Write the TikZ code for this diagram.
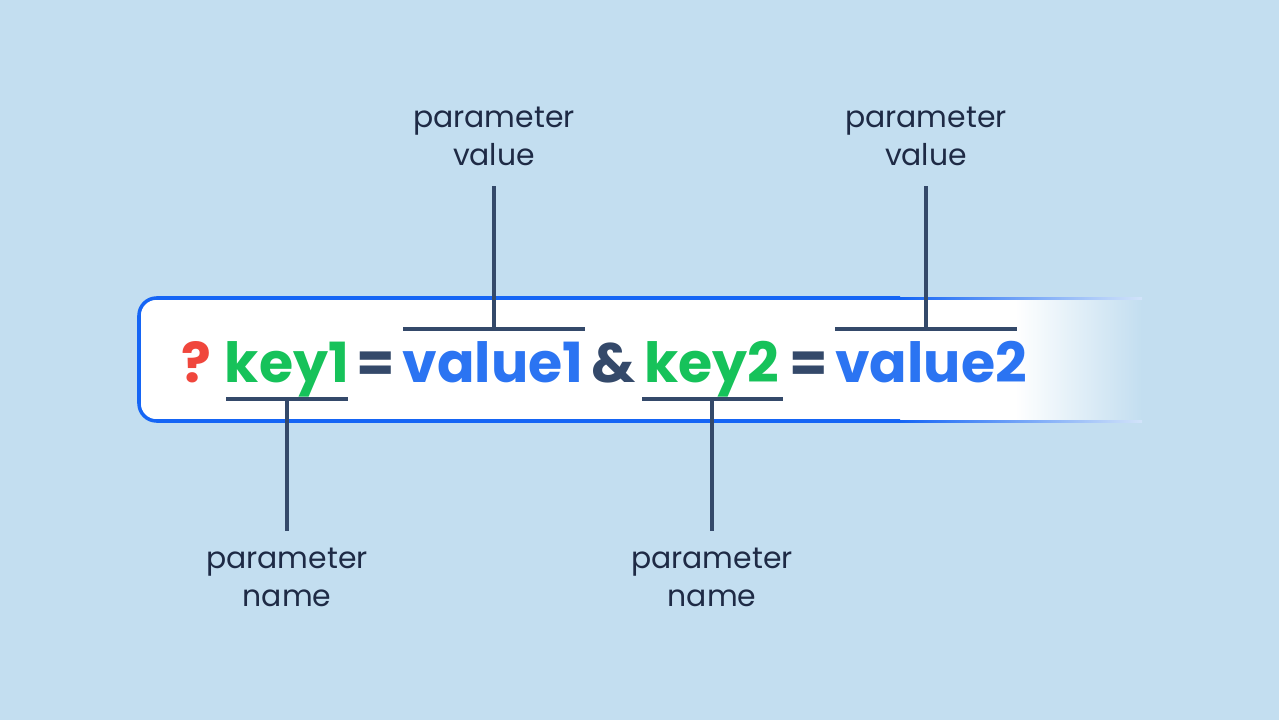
\documentclass[tikz,border=0pt]{standalone}
\usepackage{fontspec}
\setmainfont{Poppins}
\usetikzlibrary{positioning}
\definecolor{bgblue}{HTML}{C3DEF0}
\definecolor{boxblue}{HTML}{1565F5}
\definecolor{keygreen}{HTML}{16C25A}
\definecolor{valblue}{HTML}{2B74F2}
\definecolor{qred}{HTML}{F0463C}
\definecolor{navy}{HTML}{34496A}
\definecolor{labelnavy}{HTML}{1E2A45}
\tikzset{
  word/.style={anchor=base, inner sep=0pt, font=\fontsize{31.5}{36}\selectfont\bfseries},
  tag/.style={align=center, text=labelnavy, font=\fontsize{17}{21.5}\selectfont},
  brace/.style={draw=navy, line width=2.4pt}
}
\begin{document}
\begin{tikzpicture}[x=0.02cm, y=-0.02cm]
  % background
  \fill[bgblue] (0,0) rectangle (1279,720);
  \useasboundingbox (0,0) rectangle (1279,720);

  % url box
  \fill[white, rounded corners=10] (139,298) rectangle (1150,421);
  \fill[left color=white, right color=bgblue] (1015,300) rectangle (1142,419.5);
  \fill[bgblue] (1142,296) rectangle (1160,423);
  \draw[boxblue, line width=2pt, rounded corners=10]
     (900,298) -- (139,298) -- (139,421) -- (900,421);
  \shade[left color=boxblue, right color=bgblue!70!boxblue!40] (900,297) rectangle (1142,299);
  \shade[left color=boxblue, right color=bgblue!70!boxblue!40] (900,420) rectangle (1142,422);

  % query string
  \node[word, text=qred] (q) at (196,382) {?};
  \node[word, text=keygreen] (k1) at (287,382) {key1};
  \node[word, text=navy] (eq1) at (376,382) {=};
  \node[word, text=valblue] (v1) at (493,382) {value1};
  \node[word, text=navy] (amp) at (614,382) {\&};
  \node[word, text=keygreen] (k2) at (712,382) {key2};
  \node[word, text=navy] (eq2) at (809,382) {=};
  \node[word, text=valblue] (v2) at (931,382) {value2};

  % brackets
  \coordinate (k1l) at (226,399);  \coordinate (k1r) at (348,399);
  \coordinate (k1m) at (287,399);  \coordinate (k1e) at (287,531);
  \coordinate (k2l) at (642,399);  \coordinate (k2r) at (783,399);
  \coordinate (k2m) at (712,399);  \coordinate (k2e) at (712,531);
  \coordinate (v1l) at (403,329);  \coordinate (v1r) at (585,329);
  \coordinate (v1m) at (494,329);  \coordinate (v1e) at (494,186);
  \coordinate (v2l) at (835,329);  \coordinate (v2r) at (1017,329);
  \coordinate (v2m) at (926,329);  \coordinate (v2e) at (926,186);
  \draw[brace] (k1l) -- (k1r) (k1m) -- (k1e);
  \draw[brace] (k2l) -- (k2r) (k2m) -- (k2e);
  \draw[brace] (v1l) -- (v1r) (v1m) -- (v1e);
  \draw[brace] (v2l) -- (v2r) (v2m) -- (v2e);

  % labels
  \node[tag, anchor=south] (t1) at (494,172) {parameter\\value};
  \node[tag, anchor=south] (t2) at (926,172) {parameter\\value};
  \node[tag, anchor=north] (t3) at (287,542) {parameter\\name};
  \node[tag, anchor=north] (t4) at (712,542) {parameter\\name};
\end{tikzpicture}
\end{document}
